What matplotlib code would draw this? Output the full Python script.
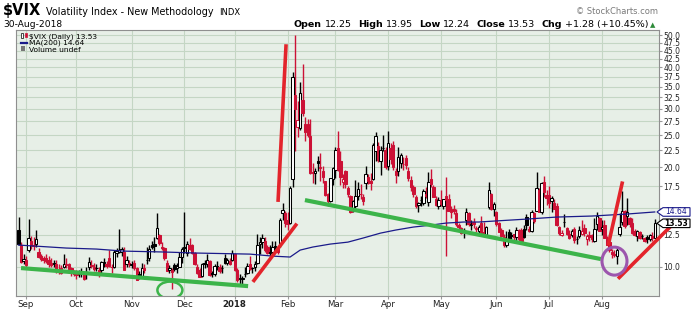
import matplotlib
matplotlib.use("Agg")
import matplotlib.pyplot as plt
import numpy as np
import pandas as pd
from matplotlib.patches import Ellipse, Polygon, Rectangle
from matplotlib.ticker import NullLocator

# ---------- data: $VIX daily, 29-Aug-2017 .. 30-Aug-2018 ----------
holidays = ["2017-09-04", "2017-11-23", "2017-12-25", "2018-01-01", "2018-01-15",
            "2018-02-19", "2018-03-30", "2018-05-28", "2018-07-04"]
prev_close = 11.32  # close of 28-Aug-2017

opens = [
    12.9, 11.6, 10.4,
    10.5, 11.2, 12.0, 11.6, 11.7, 11.1, 10.8, 10.6, 10.6, 10.5, 10.3, 10.3, 10.2, 9.8, 9.9, 10.0, 10.1, 10.2, 9.9, 9.6,
    9.6, 9.5, 9.6, 9.6, 9.6, 10.0, 10.1, 10.0, 9.9, 9.8, 9.8, 10.3, 10.2, 10.6, 10.0, 10.0, 11.0, 11.1, 11.1, 11.1, 10.2, 10.3,
    10.1, 10.3, 9.9, 9.5, 9.4, 9.9, 10.5, 10.6, 11.6, 11.7, 12.2, 12.5, 11.5, 11.4, 10.3, 9.8, 9.8, 10.1, 9.9, 10.0, 10.7,
    11.5, 11.0, 11.6, 11.6, 11.0, 10.0, 9.8, 9.4, 10.3, 10.2, 10.4, 9.6, 9.5, 10.0, 10.0, 9.9, 10.6, 10.3, 10.4, 10.5,
    10.95, 9.8, 9.2, 9.2, 9.5, 9.6, 10.2, 9.9, 10.0, 10.3, 11.7, 11.9, 12.0, 11.5, 11.0, 11.1, 11.5, 11.3, 11.6, 14.5, 14.5,
    13.8, 13.6, 18.4, 33.0, 26.4, 26.2, 32.0, 27.0, 27.0, 24.8, 19.3, 19.2, 20.9, 19.9, 19.4, 18.2, 16.6, 15.8, 18.4,
    19.6, 22.8, 20.9, 18.0, 19.4, 17.3, 16.4, 15.0, 15.3, 16.4, 16.6, 16.3, 17.9, 18.7, 18.1, 18.4, 22.3, 23.2, 20.8, 22.9, 22.6,
    20.2, 22.8, 23.3, 19.4, 19.4, 20.6, 20.5, 21.3, 19.5, 18.3, 17.4, 16.3, 15.4, 15.9, 15.6, 16.6, 15.7, 18.4, 17.4, 16.0, 15.3,
    15.9, 15.3, 16.4, 16.0, 14.6, 14.9, 14.5, 13.4, 13.1, 12.8, 13.8, 14.5, 13.4, 13.7, 13.0, 12.8, 13.6, 12.7, 12.4, 15.2, 16.6, 14.9,
    14.6, 13.6, 12.9, 12.3, 11.6, 12.7, 12.5, 12.6, 12.3, 12.9, 12.9, 13.0, 14.1, 13.0, 12.8, 14.5, 14.7, 17.0, 14.6, 18.0, 16.5,
    16.5, 15.8, 15.6, 15.3, 13.2, 12.5, 13.7, 13.1, 12.6, 12.5, 13.0, 12.1, 12.4, 12.6, 13.1, 12.1, 12.5, 12.5, 12.0, 13.5, 14.0,
    13.0, 13.4, 12.2, 11.9, 11.1, 10.9, 10.8, 12.6, 13.7, 14.7, 14.2, 14.0, 13.6, 12.8, 12.4, 12.7, 12.4, 12.2, 12.3, 12.1, 12.4, 12.25,
]
highs = [
    14.1, 11.9, 10.9,
    10.8, 13.9, 12.4, 12.3, 12.9, 11.4, 10.9, 10.8, 10.9, 10.8, 10.6, 10.5, 10.5, 10.2, 10.1, 10.9, 10.6, 10.3, 10.0, 9.8,
    9.8, 9.8, 9.9, 9.7, 10.0, 10.7, 10.5, 10.3, 10.2, 10.0, 10.4, 10.6, 10.4, 11.2, 10.2, 11.2, 11.4, 13.0, 11.5, 11.5, 10.8, 10.5,
    10.4, 10.5, 10.0, 9.7, 10.3, 10.2, 11.5, 11.6, 12.0, 12.3, 14.5, 12.6, 11.9, 11.5, 10.5, 10.1, 9.9, 10.3, 10.3, 11.1, 11.5,
    14.6, 12.0, 12.2, 11.7, 11.1, 10.2, 9.9, 10.3, 10.5, 10.9, 10.5, 9.7, 10.2, 10.4, 10.2, 10.1, 10.9, 10.6, 10.6, 11.2,
    11.0, 9.9, 9.5, 9.4, 10.0, 10.3, 10.8, 10.0, 10.4, 12.6, 12.3, 12.6, 12.3, 11.6, 11.6, 12.0, 12.0, 11.5, 14.0, 15.6, 14.7,
    14.6, 17.5, 38.8, 50.3, 31.6, 36.2, 41.1, 28.4, 27.9, 28.0, 20.6, 19.9, 21.6, 22.1, 20.1, 18.2, 16.7, 18.6, 20.0,
    23.0, 25.7, 22.4, 19.0, 19.6, 17.5, 16.5, 15.9, 18.3, 18.0, 17.8, 16.6, 20.1, 19.1, 19.2, 23.7, 25.6, 23.8, 23.1, 25.0, 23.0,
    25.7, 23.6, 24.0, 19.9, 23.0, 22.0, 21.5, 21.8, 20.0, 18.8, 17.6, 16.5, 15.7, 16.4, 17.2, 17.4, 19.3, 19.8, 17.6, 16.4, 16.3,
    17.1, 16.0, 18.7, 16.6, 15.3, 15.4, 14.9, 13.6, 13.2, 13.1, 15.1, 14.6, 13.8, 14.0, 13.3, 13.4, 14.2, 13.7, 13.3, 18.0, 16.7, 15.7,
    14.7, 13.7, 13.1, 12.6, 12.8, 13.0, 12.7, 12.6, 13.2, 13.0, 13.1, 13.4, 14.4, 13.3, 14.8, 14.6, 19.3, 17.3, 18.0, 18.8, 17.0,
    17.5, 16.4, 16.0, 15.6, 13.3, 12.9, 14.4, 13.2, 12.9, 13.0, 13.2, 12.4, 13.3, 13.8, 13.5, 12.6, 12.8, 12.6, 14.0, 14.6, 14.1,
    13.8, 13.8, 12.4, 12.1, 11.3, 11.2, 11.4, 14.5, 16.9, 14.8, 16.1, 14.1, 14.0, 13.0, 12.9, 12.8, 12.6, 12.3, 12.5, 12.6, 12.7, 13.95,
]
lows = [
    11.6, 10.3, 10.2,
    9.9, 11.1, 11.3, 11.2, 11.5, 10.6, 10.4, 10.3, 10.3, 10.0, 10.0, 10.0, 9.6, 9.5, 9.5, 9.9, 9.9, 9.6, 9.4, 9.4,
    9.2, 9.3, 9.3, 9.1, 9.2, 9.8, 9.9, 9.7, 9.7, 9.3, 9.6, 10.0, 9.9, 10.0, 9.6, 9.9, 10.7, 11.0, 10.8, 9.8, 10.0, 10.0,
    9.9, 9.8, 9.1, 9.2, 9.3, 9.6, 10.2, 10.4, 11.3, 11.1, 12.1, 11.6, 11.2, 10.5, 9.7, 9.6, 8.56, 9.7, 9.6, 10.0, 10.3,
    11.0, 10.8, 11.2, 10.9, 10.1, 9.5, 9.3, 9.3, 9.9, 10.0, 9.4, 9.3, 9.4, 9.8, 9.6, 9.6, 10.2, 10.1, 10.1, 10.4,
    9.7, 9.0, 8.9, 8.9, 9.3, 9.5, 9.8, 9.6, 9.7, 10.2, 10.9, 11.4, 11.1, 10.9, 10.8, 10.9, 11.1, 10.9, 11.5, 13.8, 13.2,
    12.9, 13.5, 17.4, 22.4, 24.6, 25.9, 28.6, 24.0, 24.7, 19.1, 17.9, 17.8, 19.5, 18.1, 17.9, 16.4, 15.3, 15.7, 17.6,
    18.5, 19.4, 17.6, 17.3, 17.3, 16.3, 14.5, 14.6, 15.0, 15.9, 16.0, 15.4, 17.2, 17.8, 17.0, 18.3, 20.8, 20.7, 18.9, 22.3, 19.8,
    19.6, 20.5, 19.6, 17.9, 18.8, 19.9, 19.6, 19.8, 18.2, 16.9, 16.3, 15.0, 14.6, 15.3, 15.4, 16.1, 15.3, 17.4, 16.2, 15.3, 14.9,
    15.3, 14.9, 10.8, 14.7, 14.0, 14.4, 13.3, 12.9, 12.6, 12.2, 13.4, 13.3, 12.9, 13.1, 12.7, 12.5, 12.4, 12.3, 12.3, 14.9, 14.8, 14.2,
    13.3, 12.7, 12.3, 11.5, 11.5, 12.1, 12.1, 12.0, 11.9, 12.0, 11.9, 12.2, 12.9, 12.7, 12.7, 13.6, 14.7, 14.6, 14.4, 16.2, 15.4,
    15.1, 14.6, 14.9, 13.3, 12.5, 12.4, 13.2, 12.5, 12.1, 12.3, 11.8, 11.7, 12.2, 12.5, 12.4, 11.6, 12.0, 11.9, 11.9, 12.9, 12.8,
    12.5, 12.2, 11.6, 11.1, 10.6, 10.7, 10.2, 12.4, 13.4, 13.1, 13.4, 13.2, 12.6, 12.4, 12.0, 12.1, 12.1, 11.9, 11.8, 12.0, 12.0, 12.24,
]
closes = [
    11.70, 10.33, 10.59,
    10.13, 12.23, 11.63, 11.55, 12.12, 10.73, 10.58, 10.50, 10.44, 10.17, 10.15, 10.18, 9.78, 9.67, 9.59, 10.21, 10.17, 9.87, 9.55, 9.51,
    9.45, 9.51, 9.63, 9.19, 9.65, 10.33, 10.08, 9.85, 9.91, 9.61, 10.31, 10.31, 10.06, 10.05, 9.97, 11.07, 11.16, 11.23, 11.30, 9.80, 10.50, 10.18,
    10.20, 9.93, 9.14, 9.40, 9.89, 9.78, 10.50, 11.29, 11.50, 11.59, 13.13, 11.76, 11.43, 10.65, 9.73, 9.88, 9.67, 9.87, 10.03, 10.70, 11.28,
    11.43, 11.68, 11.33, 11.02, 10.16, 9.58, 9.34, 10.18, 10.18, 10.49, 9.42, 9.53, 10.03, 10.03, 9.72, 9.90, 10.25, 10.47, 10.18, 11.04,
    9.77, 9.15, 9.22, 9.22, 9.52, 10.08, 9.82, 9.88, 10.16, 11.66, 11.91, 12.22, 11.27, 11.03, 11.10, 11.47, 11.58, 11.08, 13.84, 14.79, 13.54,
    13.47, 17.31, 37.32, 29.98, 27.73, 33.46, 29.06, 25.61, 24.97, 19.26, 19.13, 19.46, 20.60, 20.02, 18.72, 16.49, 15.80, 18.59, 19.85,
    22.47, 19.59, 18.73, 18.36, 17.76, 16.54, 14.64, 15.78, 16.35, 17.23, 16.59, 15.80, 19.02, 18.20, 17.86, 23.34, 24.87, 21.03, 22.50, 22.87, 19.97,
    23.62, 21.10, 20.06, 18.94, 21.49, 21.77, 20.47, 20.24, 18.49, 17.41, 16.56, 15.25, 15.60, 15.96, 16.88, 16.34, 18.02, 17.84, 16.24, 15.41, 15.93,
    15.49, 15.97, 15.90, 14.77, 14.75, 14.71, 13.42, 13.23, 12.65, 12.93, 14.63, 13.42, 13.43, 13.42, 13.08, 13.22, 12.58, 12.53, 13.22, 17.02, 14.94, 15.43,
    13.46, 12.74, 12.40, 11.64, 12.13, 12.18, 12.35, 12.34, 12.94, 12.12, 11.98, 12.31, 13.35, 12.79, 14.64, 13.77, 17.33, 14.64, 17.91, 16.85, 16.09,
    15.60, 16.14, 14.97, 13.37, 12.69, 12.64, 13.63, 12.58, 12.18, 12.83, 12.06, 12.10, 12.87, 12.86, 12.62, 12.41, 12.29, 12.14, 13.03, 14.26, 12.83,
    13.15, 12.19, 11.64, 11.27, 10.93, 10.85, 11.27, 13.16, 14.78, 13.31, 14.64, 13.45, 12.64, 12.49, 12.86, 12.25, 12.41, 11.99, 12.16, 12.50, 12.25, 13.53,
]

# MA(200)
ma_dates = ["2017-08-29", "2017-09-26", "2017-10-12", "2017-10-27", "2017-11-20", "2017-12-08",
            "2018-01-10", "2018-01-24", "2018-02-02", "2018-02-08", "2018-02-15", "2018-02-27",
            "2018-03-08", "2018-03-16", "2018-03-27", "2018-04-05", "2018-04-16", "2018-04-25",
            "2018-05-03", "2018-05-14", "2018-05-22", "2018-05-31", "2018-06-19", "2018-07-06",
            "2018-07-26", "2018-08-15", "2018-08-30"]
ma_values = [11.63, 11.39, 11.31, 11.15, 11.08, 11.00, 10.92, 10.77, 10.70, 11.23, 11.47, 11.71,
             11.87, 12.21, 12.64, 12.91, 13.18, 13.36, 13.55, 13.65, 13.65, 13.74, 13.93, 14.13,
             14.23, 14.43, 14.64]

yticks = [10.0, 12.5, 15.0, 17.5, 20.0, 22.5, 25.0, 27.5, 30.0, 32.5, 35.0, 37.5, 40.0, 42.5, 45.0, 47.5, 50.0]

# hand-drawn markup (trading-day index, price)
green_lines = [((1.0, 9.91), (91.3, 8.74)), ((113.9, 15.9), (231.6, 10.55))]
red_lines = [((103.2, 15.7), (106.4, 47.0)), ((93.2, 9.0), (110.7, 13.5)),
             ((234.5, 11.6), (240.2, 18.1)), ((238.4, 9.2), (261.7, 13.8))]
green_ring = (60.2, 8.5)
purple_ring = (237.0, 10.4)

# ---------- figure ----------
W, H = 700, 312
L, T, R, B = 16, 30, 659, 296
RED = "#cc1136"
GREEN = "#3cb44a"
NAVY = "#1a1a8a"

dates = pd.bdate_range("2017-08-29", "2018-08-30", freq="C", holidays=holidays)
assert len(dates) == len(closes) == len(opens) == len(highs) == len(lows)

fig = plt.figure(figsize=(W / 100, H / 100), dpi=100)
ax = fig.add_axes([L / W, 1 - B / H, (R - L) / W, (B - T) / H])
ax.set_facecolor("#e7efe7")
ax.set_yscale("log")
ax.set_xlim(-1.0, 254.7)
ax.set_ylim(8.16, 51.9)

# month ticks at first trading day
month_start = [i for i in range(1, len(dates)) if dates[i].month != dates[i - 1].month]
month_lbl = [str(dates[i].year) if dates[i].month == 1 else dates[i].strftime("%b") for i in month_start]
ax.set_xticks(month_start, month_lbl)
for t, i in zip(ax.get_xticklabels(), month_start):
    if dates[i].month == 1:
        t.set_fontweight("bold")
# the 15.0 label sits under the MA(200) price tag, as in the source chart
ax.set_yticks(yticks, ["" if v == 15.0 else f"{v:.1f}" for v in yticks])
ax.yaxis.set_minor_locator(NullLocator())
ax.yaxis.tick_right()
ax.tick_params(axis="x", labelsize=6.2, length=2, pad=1.2, color="#999999", labelcolor="#222222")
ax.tick_params(axis="y", labelsize=5.5, length=2, pad=1.0, color="#999999", labelcolor="#222222")
ax.grid(True, color="#c4d6c4", lw=0.8)
ax.set_axisbelow(True)
for s in ax.spines.values():
    s.set_color("#8f8f8f")
    s.set_linewidth(0.8)

# candles
x = np.arange(len(dates))
o, h, l, c = (np.array(v) for v in (opens, highs, lows, closes))
prev = np.concatenate([[prev_close], c[:-1]])
edge = ["black" if ci >= pi else RED for ci, pi in zip(c, prev)]
face = ["white" if ci > oi else e for ci, oi, e in zip(c, o, edge)]
ax.vlines(x, l, h, colors=edge, lw=1.0, zorder=3)
ax.bar(x, np.abs(c - o), bottom=np.minimum(o, c), width=0.95, color=face,
       edgecolor=edge, lw=0.75, zorder=4)

# moving average
ma_x = [dates.get_loc(pd.Timestamp(d)) for d in ma_dates]
ax.plot(ma_x, ma_values, color=NAVY, lw=0.9, zorder=5)

# markup
for (x0, y0), (x1, y1) in green_lines:
    ax.plot([x0, x1], [y0, y1], color=GREEN, lw=3.0, solid_capstyle="butt", zorder=7)
for (x0, y0), (x1, y1) in red_lines:
    ax.plot([x0, x1], [y0, y1], color="#e3242b", lw=2.6, solid_capstyle="butt", zorder=7, clip_on=False)

to_axes = ax.transScale + ax.transLimits
aw, ah = R - L, B - T


def ring(pos, w, hh, color, lw):
    cx, cy = to_axes.transform(pos)
    ax.add_patch(Ellipse((cx, cy), w / aw, hh / ah, transform=ax.transAxes, fill=False,
                         edgecolor=color, lw=lw, zorder=8))


ring(green_ring, 25, 17, GREEN, 1.8)
ring(purple_ring, 25, 28, "#9c56ad", 2.2)


def price_tag(val, text, color, bold):
    _, cy = to_axes.transform((0, val))
    pts = [(-2, 0), (4, 4.3), (31, 4.3), (31, -4.3), (4, -4.3)]
    verts = [(1 + px / aw, cy + py / ah) for px, py in pts]
    ax.add_patch(Polygon(verts, closed=True, transform=ax.transAxes, facecolor="white",
                         edgecolor=color, lw=0.8, clip_on=False, zorder=9))
    ax.text(1 + 17 / aw, cy, text, transform=ax.transAxes, ha="center", va="center",
            fontsize=5.5, color=color, fontweight="bold" if bold else "normal",
            clip_on=False, zorder=10)


price_tag(ma_values[-1], f"{ma_values[-1]:.2f}", NAVY, False)
price_tag(closes[-1], f"{closes[-1]:.2f}", "black", True)

# ---------- header text ----------
renderer = fig.canvas.get_renderer()


def fx(px):
    return px / W


def fy(py):
    return 1 - py / H


def text_row(x0, y_base, parts):
    xx = x0
    for s, size, weight, color, gap in parts:
        t = fig.text(fx(xx), fy(y_base), s, fontsize=size, fontweight=weight, color=color,
                     ha="left", va="baseline")
        xx += t.get_window_extent(renderer).width + gap


text_row(3, 15, [("$VIX", 10.5, "bold", "black", 5),
                 ("Volatility Index - New Methodology", 6.9, "normal", "black", 5),
                 ("INDX", 6.0, "normal", "black", 0)])
fig.text(fx(3), fy(27), "30-Aug-2018", fontsize=6.6, color="black", va="baseline")
fig.text(fx(658), fy(14), "\u00a9 StockCharts.com", fontsize=6.0, color="#7a7a7a",
         ha="right", va="baseline")

chg = closes[-1] - closes[-2]
pct = chg / closes[-2] * 100
fs = 6.8
text_row(294, 27, [("Open", fs, "bold", "black", 3), (f"{opens[-1]:.2f}", fs, "normal", "black", 6),
                   ("High", fs, "bold", "black", 3), (f"{highs[-1]:.2f}", fs, "normal", "black", 6),
                   ("Low", fs, "bold", "black", 3), (f"{lows[-1]:.2f}", fs, "normal", "black", 6),
                   ("Close", fs, "bold", "black", 3), (f"{closes[-1]:.2f}", fs, "normal", "black", 6),
                   ("Chg", fs, "bold", "black", 3), (f"{chg:+.2f} ({pct:+.2f}%)", fs, "normal", "black", 2),
                   ("\u25b2", 5.0, "normal", "#2e8b3a", 0)])

# legend block
leg = [("$VIX (Daily) " + f"{closes[-1]:.2f}", 38), (f"MA(200) {ma_values[-1]:.2f}", 45),
       ("Volume undef", 52)]
for s, yb in leg:
    fig.text(fx(29), fy(yb), s, fontsize=5.4, color="black", va="baseline")
fig.add_artist(Rectangle((fx(21), fy(38)), 2 / W, 5 / H, facecolor="white", edgecolor="black", lw=0.5))
fig.add_artist(Rectangle((fx(25), fy(37)), 2 / W, 4 / H, facecolor=RED, edgecolor=RED, lw=0.5))
fig.add_artist(plt.Line2D([fx(21), fx(27)], [fy(42.5), fy(42.5)], color=NAVY, lw=1.6))
fig.add_artist(Rectangle((fx(21), fy(51)), 4 / W, 5 / H, facecolor="#777777", edgecolor="none"))

fig.savefig("out.png", dpi=100, facecolor="white")
